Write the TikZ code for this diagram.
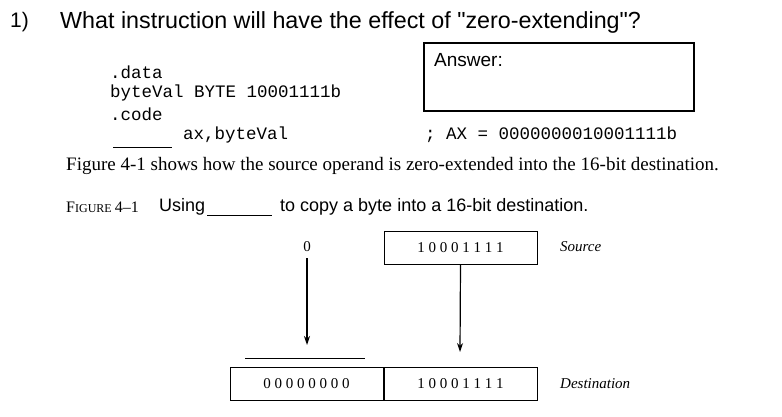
\documentclass[tikz,border=0pt]{standalone}
\usepackage{fontspec}
\setmainfont{Liberation Serif}
\newfontfamily\arial{Liberation Sans}
\newfontfamily\cour{Liberation Mono}
\usetikzlibrary{arrows.meta}
\begin{document}
\begin{tikzpicture}[x=1pt,y=-1pt,
  every node/.style={inner sep=0pt,anchor=west},
  code/.style={font=\cour\fontsize{17.5}{17.5}\selectfont},
  bit/.style={draw,thick,minimum width=153pt,minimum height=33pt,anchor=center,font=\fontsize{15}{15}\selectfont},
  lab/.style={font=\itshape\fontsize{15}{15}\selectfont},
  arr/.style={line width=1.2pt,-{Stealth[length=9pt,width=6pt]}}]
\useasboundingbox (0,0) rectangle (782,417);
\node (num) at (10,22) {\arial\fontsize{21}{21}\selectfont 1)};
\node (title) at (60,22) {\arial\fontsize{23.3}{23.3}\selectfont What instruction will have the effect of "zero-extending"?};
\node (ans) [draw,line width=2pt,minimum width=270pt,minimum height=68pt,anchor=north west] at (423,42) {};
\node (anst) at (434,60) {\arial\fontsize{19}{19}\selectfont Answer:};
\node[code] (c1) at (110,72) {.data};
\node[code] (c2) at (110,93) {byteVal BYTE 10001111b};
\node[code] (c3) at (110,114) {.code};
\node[code] (c4) at (183,135) {ax,byteVal};
\node[code] (c5) at (425,135) {; AX = 0000000010001111b};
\draw[thick] (113,147) -- (172,147);
\node (fig) at (66,166) {\fontsize{19}{19}\selectfont Figure 4-1 shows how the source operand is zero-extended into the 16-bit destination.};
\node (cap) at (66,207) {\fontsize{16}{16}\selectfont F\fontsize{12}{12}\selectfont IGURE \fontsize{16}{16}\selectfont 4--1};
\node (cap2) at (159,207) {\arial\fontsize{18}{18}\selectfont Using};
\draw[thick] (207,215) -- (272,215);
\node (cap3) at (280,207) {\arial\fontsize{18}{18}\selectfont to copy a byte into a 16-bit destination.};
\node (zero) [anchor=center,font=\fontsize{15}{15}\selectfont] at (307,247) {0};
\node[bit] (src) at (460.5,247.5) {1 0 0 0 1 1 1 1};
\node[lab] (srcl) at (560,247) {Source};
\node[bit] (d1) at (306.5,384) {0 0 0 0 0 0 0 0};
\node[bit] (d2) at (460.5,384) {1 0 0 0 1 1 1 1};
\node[lab] (dl) at (560,384) {Destination};
\coordinate (za) at (307,345);
\draw[arr] (zero.south) ++(0,6) -- (za);
\draw[arr] (src.south) -- (460,352);
\draw[thick] (245,358) -- (365,358);
\end{tikzpicture}
\end{document}
